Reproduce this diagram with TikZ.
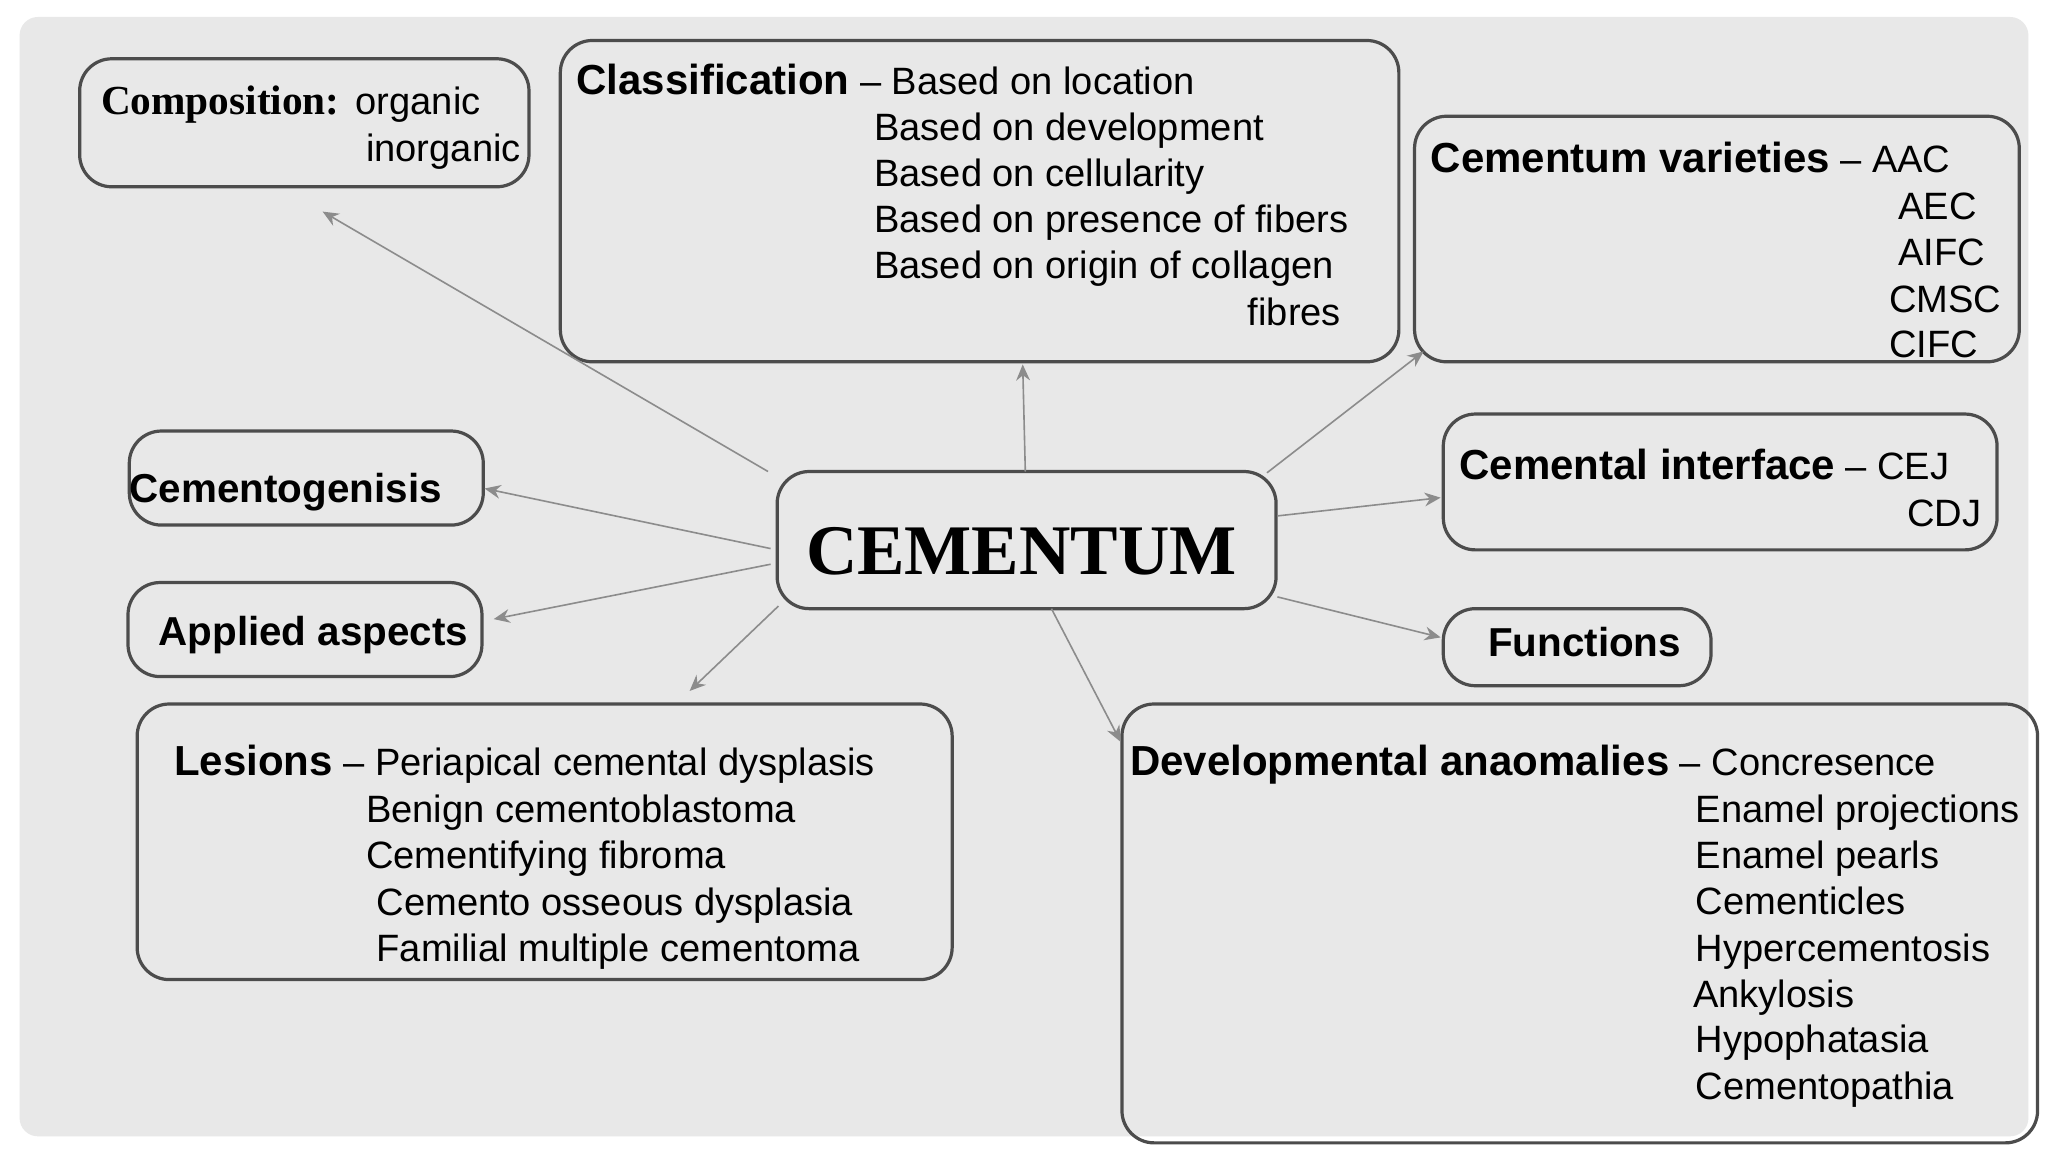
\documentclass[tikz,border=0pt]{standalone}
\usepackage{fontspec}
\setmainfont{Liberation Sans}
\newfontfamily\serifface{Liberation Serif}
\usetikzlibrary{positioning,arrows.meta}
\begin{document}
\begin{tikzpicture}[x=0.02cm,y=-0.02cm,
    box/.style={draw=black!70, line width=1.4pt, rounded corners=14pt},
    txt/.style={anchor=base west, inner sep=0pt, font=\fontsize{16.6}{18}\selectfont},
    hdr/.style={txt, font=\fontsize{17.6}{19}\selectfont\bfseries},
    arr/.style={draw=black!45, line width=0.7pt, -{Stealth[length=7pt,width=6pt]}}]
  \useasboundingbox (0,0) rectangle (1568,882);
  \fill[white] (0,0) rectangle (1568,882);
  \fill[black!9, rounded corners=8pt] (15,13) rectangle (1553,870);
  % boxes
  \draw[box] (61,45) rectangle (405,143);
  \draw[box] (429,31) rectangle (1071,277);
  \draw[box] (1083,89) rectangle (1546,277);
  \draw[box] (99,330) rectangle (370,402);
  \node[box, minimum width=382*0.02cm, minimum height=105*0.02cm] (cem) at (786,413.5) {};
  \draw[box] (1105,317) rectangle (1529,421);
  \draw[box] (98,446) rectangle (369,518);
  \draw[box] (1105,466) rectangle (1310,525);
  \draw[box] (105,539) rectangle (729,750);
  \draw[box] (859,539) rectangle (1560,875);
  % texts
  \node[txt] (compo) at (77,88) {\serifface\fontsize{18}{20}\selectfont\bfseries Composition:};
  \node[txt] at (272,88) {organic};
  \node[txt] at (280,124) {inorganic};
  \node[txt] (clas) at (441,72) {{\fontsize{18.3}{19}\selectfont\bfseries Classification} -- Based on location};
  \foreach \t [count=\i] in {Based on development,Based on cellularity,Based on presence of fibers,Based on origin of collagen}
    \node[txt] at (669,72+\i*35.3) {\t};
  \node[txt] at (955,249) {fibres};
  \node[txt] (vari) at (1095,132) {{\fontsize{18.3}{19}\selectfont\bfseries Cementum varieties} -- AAC};
  \node[txt] at (1453,168) {AEC};
  \node[txt] at (1453,203) {AIFC};
  \node[txt] at (1446,239) {CMSC};
  \node[txt] at (1446,274) {CIFC};
  \node[hdr] (gen) at (99,385) {Cementogenisis};
  \node[hdr] (appl) at (121,494) {Applied aspects};
  \node[anchor=base, inner sep=0pt, font=\serifface\fontsize{31}{34}\selectfont\bfseries] at (782,440) {CEMENTUM};
  \node[txt] (intf) at (1117,367) {{\fontsize{18.3}{19}\selectfont\bfseries Cemental interface} -- CEJ};
  \node[txt] at (1460,403) {CDJ};
  \node[hdr] (func) at (1139,503) {Functions};
  \node[txt] (les) at (133,594) {{\fontsize{18.3}{19}\selectfont\bfseries Lesions} -- Periapical cemental dysplasis};
  \node[txt] at (280,630) {Benign cementoblastoma};
  \node[txt] at (280,665) {Cementifying fibroma};
  \node[txt] at (288,701) {Cemento osseous dysplasia};
  \node[txt] at (288,736) {Familial multiple cementoma};
  \node[txt] (dev) at (865,594) {{\fontsize{18.3}{19}\selectfont\bfseries Developmental anaomalies} -- Concresence};
  \foreach \t [count=\i] in {Enamel projections,Enamel pearls,Cementicles,Hypercementosis}
    \node[txt] at (1298,594+\i*35.5) {\t};
  \node[txt] at (1296,771) {Ankylosis};
  \node[txt] at (1298,806) {Hypophatasia};
  \node[txt] at (1298,842) {Cementopathia};
  % arrow ends
  \coordinate (eComp) at (247,162);
  \coordinate (eClas) at (783,279);
  \coordinate (eVar) at (1090,269);
  \coordinate (eIntf) at (1103,381);
  \coordinate (eFunc) at (1103,488);
  \coordinate (eDev) at (858,568);
  \coordinate (eLes) at (528,529);
  \coordinate (eAppl) at (378,474);
  \coordinate (eGen) at (371,374);
  \draw[arr] (588,361) -- (eComp);
  \draw[arr] (785,361) -- (eClas);
  \draw[arr] (970,362) -- (eVar);
  \draw[arr] (978,395) -- (eIntf);
  \draw[arr] (978,457) -- (eFunc);
  \draw[arr] (805,466) -- (eDev);
  \draw[arr] (596,464) -- (eLes);
  \draw[arr] (590,432) -- (eAppl);
  \draw[arr] (590,420) -- (eGen);
\end{tikzpicture}
\end{document}
